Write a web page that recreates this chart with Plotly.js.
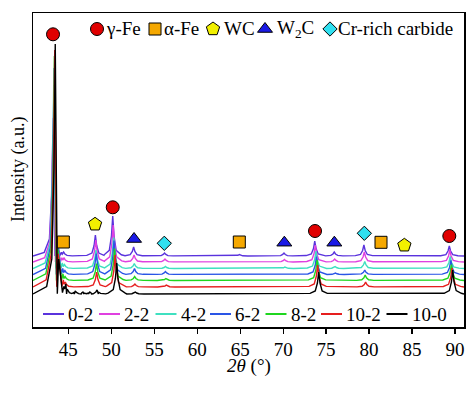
<!DOCTYPE html>
<html><head><meta charset="utf-8">
<script src="https://cdn.plot.ly/plotly-3.0.1.min.js"></script>
<style>html,body{margin:0;padding:0;background:#fff;}</style>
</head><body><div id="chart" style="width:474px;height:395px;"></div>
<script>
// ---- Data (2θ in degrees, intensity in arbitrary units) ----
const seriesNames = ['0-2','2-2','4-2','6-2','8-2','10-2','10-0'];
const seriesColors = ['#5a33dd','#e040e0','#3fe0c0','#2a55e6','#1fd61f','#e61e1e','#000000'];

// baseline level of each (offset) pattern
const baseline = [71, 65, 58.5, 52.5, 46.5, 40, 33];

// peak positions (2θ) and peak heights above baseline, per pattern
const peakPos_02  = [43.20, 44.45, 48.15, 50.17, 52.60, 56.20, 64.90, 70.10, 73.68, 75.95, 79.40, 89.34];
const peakInt_02  = [121,   4,     21,    40,    9,     3,     1.5,   3,     15,    4,     11,    10];
const peakPos_22  = [43.25, 44.50, 48.20, 50.22, 52.65, 56.25, 70.15, 73.75, 76.00, 79.45, 89.40];
const peakInt_22  = [144,   4,     22,    37,    7,     3,     2.5,   17,    3,     10,    12];
const peakPos_42  = [43.30, 44.55, 48.22, 50.27, 52.68, 56.30, 70.20, 73.82, 76.05, 79.50, 89.45];
const peakInt_42  = [183.5, 4,     18.5,  31,    5,     2,     1.5,   17.5,  2,     7,     12];
const peakPos_62  = [43.35, 44.60, 48.25, 50.32, 52.70, 56.30, 73.88, 76.10, 79.50, 89.52];
const peakInt_62  = [206.5, 4,     21,    34,    6,     3,     18,    1.5,   4.5,   14];
const peakPos_82  = [43.38, 44.62, 48.28, 50.38, 52.72, 56.35, 73.95, 79.55, 89.58];
const peakInt_82  = [224.5, 4,     17,    32,    4,     2,     20.5,  5.5,   16];
const peakPos_102 = [43.42, 44.65, 48.30, 50.45, 52.75, 56.40, 74.02, 79.60, 89.65];
const peakInt_102 = [237,   5,     15,    32,    3,     2,     22,    5,     19];
const peakPos_100 = [43.48, 44.72, 45.80, 46.70, 47.50, 48.35, 50.63, 52.80, 74.14, 89.74];
const peakInt_100 = [250,   10,    3,     2,     2,     4,     31,    2,     22,    24];

const allPeakPos = [peakPos_02, peakPos_22, peakPos_42, peakPos_62, peakPos_82, peakPos_102, peakPos_100];
const allPeakInt = [peakInt_02, peakInt_22, peakInt_42, peakInt_62, peakInt_82, peakInt_102, peakInt_100];

// phase markers (2θ, height)
const gammaFeX = [43.22, 50.17, 73.71, 89.34];
const gammaFeY = [292.7, 119.7, 96, 91];
const alphaFeX = [44.42, 64.90, 81.39];
const alphaFeY = [85, 85, 84.7];
const wcX = [48.11, 84.11];
const wcY = [102.7, 81.7];
const w2cX = [52.65, 70.14, 75.96];
const w2cY = [88, 84.3, 84.3];
const crX = [56.17, 79.45];
const crY = [83.7, 93.7];

const xTicks = [45, 50, 55, 60, 65, 70, 75, 80, 85, 90];
const xRange = [40.89, 91.05];
const yRange = [0, 314];

// ---- drawing ----
const FONT = 'Liberation Serif';
const shapeOff = [-1.0, -0.4, -0.15, 0, 0.15, 0.4, 1.0];
const shapeFrac = [0.03, 0.14, 0.5, 1, 0.5, 0.14, 0.03];

const traces = [];
seriesNames.forEach((name, i) => {
  const pts = [[xRange[0], baseline[i]], [xRange[1], baseline[i]]];
  allPeakPos[i].forEach((p, k) => {
    const h = allPeakInt[i][k];
    shapeOff.forEach((o, j) => pts.push([p + o, baseline[i] + h * shapeFrac[j]]));
  });
  pts.sort((a, b) => a[0] - b[0]);
  traces.push({
    type: 'scatter', mode: 'lines', name: name,
    x: pts.map(p => p[0]), y: pts.map(p => p[1]),
    line: {color: seriesColors[i], width: 1.4},
    hoverinfo: 'skip', showlegend: false
  });
});

const phases = [
  {x: gammaFeX, y: gammaFeY, symbol: 'circle', color: '#e00000', size: 13, label: 'γ-Fe'},
  {x: alphaFeX, y: alphaFeY, symbol: 'square', color: '#f5a800', size: 12, label: 'α-Fe'},
  {x: wcX, y: wcY, symbol: 'pentagon', color: '#f2f000', size: 14, label: 'WC'},
  {x: w2cX, y: w2cY, symbol: 'triangle-up', color: '#1a1ae6', size: 13, label: 'W<sub>2</sub>C'},
  {x: crX, y: crY, symbol: 'diamond', color: '#30e0f0', size: 11, label: 'Cr-rich carbide'}
];
phases.forEach(ph => {
  traces.push({
    type: 'scatter', mode: 'markers', x: ph.x, y: ph.y, showlegend: false, hoverinfo: 'skip',
    marker: {symbol: ph.symbol, color: ph.color, size: ph.size, line: {color: '#000', width: 1}},
    cliponaxis: false
  });
});

// top legend (overlay axis in 0..1 units of the plot area)
const L = 33, R = 464, T = 13, B = 327;
const fx = px => (px - L) / (R - L);
const fy = py => (B - py) / (B - T);
const legMarkX = [97, 155, 213, 265, 330];
const legTextX = [104, 162, 222, 275, 336];
const annotations = [];
phases.forEach((ph, k) => {
  traces.push({
    type: 'scatter', mode: 'markers', x: [fx(legMarkX[k])], y: [fy(29)], xaxis: 'x2', yaxis: 'y2',
    showlegend: false, hoverinfo: 'skip', cliponaxis: false,
    marker: {symbol: ph.symbol, color: ph.color, size: ph.size, line: {color: '#000', width: 1}}
  });
  annotations.push({xref: 'paper', yref: 'paper', x: fx(legTextX[k]), y: fy(29), xanchor: 'left', yanchor: 'middle',
    text: ph.label, showarrow: false, font: {family: FONT, size: 19, color: '#000'}});
});

// bottom legend for the patterns
const legLineX = [43, 99, 155.5, 210, 265.5, 321, 386.5];
const shapes = [];
seriesNames.forEach((name, i) => {
  shapes.push({type: 'line', xref: 'paper', yref: 'paper', x0: fx(legLineX[i]), x1: fx(legLineX[i] + 21),
    y0: fy(314), y1: fy(314), line: {color: seriesColors[i], width: 2}});
  annotations.push({xref: 'paper', yref: 'paper', x: fx(legLineX[i] + 23), y: fy(314), xanchor: 'left', yanchor: 'middle',
    text: name, showarrow: false, font: {family: FONT, size: 19, color: '#000'}});
});

// y-axis title
annotations.push({xref: 'paper', yref: 'paper', x: fx(18), y: 0.5, xanchor: 'center', yanchor: 'middle',
  text: 'Intensity (a.u.)', textangle: -90, showarrow: false, font: {family: FONT, size: 18, color: '#000'}});

// x-axis title
annotations.push({xref: 'paper', yref: 'paper', x: 0.5, y: fy(366), xanchor: 'center', yanchor: 'middle',
  text: '<i>2θ</i> (°)', showarrow: false, font: {family: FONT, size: 19, color: '#000'}});

const layout = {
  width: 474, height: 395,
  margin: {l: L, r: 474 - R, t: T, b: 395 - B, pad: 0},
  paper_bgcolor: '#fff', plot_bgcolor: '#fff', showlegend: false,
  font: {family: FONT, size: 19, color: '#000'},
  xaxis: {range: xRange, tickvals: xTicks, ticks: 'outside', ticklen: 5, tickwidth: 1.2, tickcolor: '#000',
    showline: true, mirror: true, linewidth: 1.5, linecolor: '#000', showgrid: false, zeroline: false,
    tickfont: {family: FONT, size: 19, color: '#000'}},
  yaxis: {range: yRange, showticklabels: false, ticks: '', showline: true, mirror: true, linewidth: 1.5,
    linecolor: '#000', showgrid: false, zeroline: false},
  xaxis2: {overlaying: 'x', anchor: 'y2', range: [0, 1], visible: false},
  yaxis2: {overlaying: 'y', anchor: 'x2', range: [0, 1], visible: false},
  shapes: shapes, annotations: annotations
};

Plotly.newPlot('chart', traces, layout, {displayModeBar: false, staticPlot: true});
</script></body></html>
